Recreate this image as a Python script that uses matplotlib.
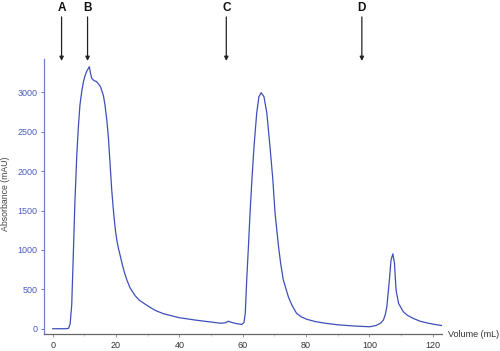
import matplotlib
matplotlib.use("Agg")
import matplotlib.pyplot as plt
from matplotlib.ticker import MultipleLocator
import matplotlib.transforms as mtransforms

plt.rcParams['font.family'] = ['Liberation Sans', 'DejaVu Sans']

# Chromatogram trace
volume = [0, 2, 4, 5, 5.5, 6.0, 6.5, 7.0, 7.6, 8.1, 8.6, 9.2, 9.7, 10.2, 10.7, 11.2, 11.56,
          12.0, 12.3, 13.0, 13.9, 15.1, 16.0, 16.5, 17.1, 17.6, 18.1, 18.6, 19.0, 19.4,
          19.8, 20.3, 20.8, 21.3, 22.0, 22.6, 23.5, 24.4, 26.0, 27.4, 30.0, 32.5, 35.0, 40.0,
          45.0, 50.0, 53.0,
          54.5, 55.5, 56.5, 58.0, 59.7, 60.4, 60.8, 61.25, 61.8, 62.3, 62.9, 63.55, 64.4,
          65.1, 65.8, 66.7, 67.6, 68.6, 69.5, 70.2, 71.3, 72.0, 72.8, 74.4, 75.5, 77.0,
          78.5, 80.2, 83.0, 86.0, 90.0, 95.0, 100.0, 102.0, 103.5, 104.4, 105.0, 105.5,
          106.3, 106.8, 107.4, 107.9, 108.4, 109.2, 110.7, 112.0, 113.9, 116.0, 118.6,
          121.0, 123.0]
absorbance = [0, 0, 0, 5, 60, 300, 935, 1600, 2200, 2560, 2840, 3020, 3135, 3210, 3265, 3300, 3325,
              3230, 3180, 3150, 3135, 3070, 2960, 2840, 2640, 2415, 2100, 1780, 1580, 1400,
              1250, 1110, 1010, 930, 810, 720, 610, 520, 420, 360, 290, 230, 190, 140,
              110, 85, 70,
              75, 95, 80, 65, 55, 80, 200, 620, 1050, 1465, 1900, 2310, 2735,
              2945, 2995, 2945, 2735, 2310, 1890, 1465, 1040, 820, 620, 405, 300, 195,
              150, 120, 90, 70, 50, 35, 25, 40, 70, 110, 180, 280,
              620, 870, 950, 830, 490, 320, 215, 170, 130, 95, 70,
              52, 40]

xticks = [0, 20, 40, 60, 80, 100, 120]
yticks = [0, 500, 1000, 1500, 2000, 2500, 3000]

marker_labels = ["A", "B", "C", "D"]
marker_volumes = [2.8, 11.0, 54.8, 97.6]

curve_color = "#3f4fb8"
ytick_color = "#4a5bc0"

fig = plt.figure(figsize=(5.0, 3.51), dpi=100)
ax = fig.add_axes([0.088, 0.0484, 0.7966, 0.7835])

ax.plot(volume, absorbance, color=curve_color, lw=0.9)

ax.set_xlim(-2.75, 123.0)
ax.set_ylim(-67, 3423)
ax.set_xticks(xticks)
ax.set_yticks(yticks)
ax.xaxis.set_minor_locator(MultipleLocator(10))

for s in ["top", "right"]:
    ax.spines[s].set_visible(False)
ax.spines["left"].set_color("#6f7fcf")
ax.spines["left"].set_linewidth(0.9)
ax.spines["bottom"].set_color("#666666")
ax.spines["bottom"].set_linewidth(0.9)

ax.tick_params(axis="y", colors=ytick_color, labelsize=6.5, length=2, width=0.6, pad=2.5)
ax.tick_params(axis="x", which="major", colors="#888888", labelcolor="#333333",
               labelsize=6.5, length=2, width=0.6, pad=3)
ax.tick_params(axis="x", which="minor", colors="#aaaaaa", length=1.5, width=0.5)

ax.set_ylabel("Absorbance (mAU)", fontsize=6.3, color="#444444")
ax.yaxis.set_label_coords(-0.085, 0.51)

# x-axis label at right end of axis
ax.annotate("Volume (mL)", xy=(1.0, 0.0), xycoords="axes fraction",
            xytext=(4, 0), textcoords="offset points", ha="left", va="center",
            fontsize=6.5, color="#333333")

trans = mtransforms.blended_transform_factory(ax.transData, ax.transAxes)
for lab, v in zip(marker_labels, marker_volumes):
    ax.annotate("", xy=(v, 0.993), xycoords=trans, xytext=(v, 1.153), textcoords=trans,
                arrowprops=dict(arrowstyle="-|>", color="#222222", lw=0.9,
                                mutation_scale=6, shrinkA=0, shrinkB=0),
                annotation_clip=False)
    ax.text(v, 1.185, lab, transform=trans, ha="center", va="center",
            fontsize=8.5, fontweight="bold", color="#111111", clip_on=False)

fig.savefig("out.png", dpi=100)
